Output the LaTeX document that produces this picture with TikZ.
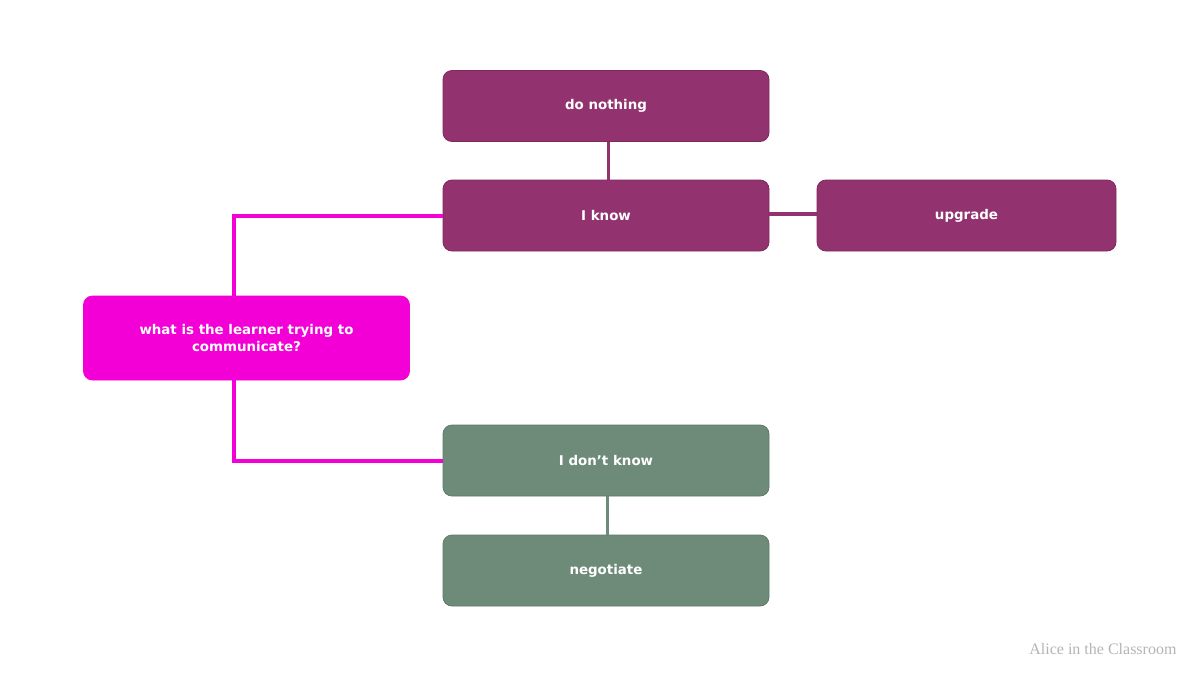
\documentclass[tikz,border=0pt]{standalone}
\usepackage{fontspec}
\setmainfont{DejaVu Sans}
\newfontfamily\wmfont{Liberation Serif}
\definecolor{plum}{HTML}{92336F}
\definecolor{plumedge}{HTML}{7E2A5F}
\definecolor{hotpink}{HTML}{F200D6}
\definecolor{sage}{HTML}{6E8B7A}
\definecolor{sageedge}{HTML}{5F7A6A}
\definecolor{wmgray}{HTML}{B5B5B5}
\begin{document}
\begin{tikzpicture}[x=1pt,y=-1pt,
  box/.style={rounded corners=9pt, minimum width=326pt, minimum height=71pt,
    inner sep=0pt, text=white, font=\fontsize{13.4}{17}\selectfont\bfseries, align=center, line width=0.8pt},
  plumbox/.style={box, fill=plum, draw=plumedge},
  sagebox/.style={box, fill=sage, draw=sageedge},
  pinkbox/.style={box, fill=hotpink, draw=hotpink, minimum height=84pt},
  pinkline/.style={draw=hotpink, line width=4pt},
  plumline/.style={draw=plum, line width=3.5pt},
  sageline/.style={draw=sage, line width=3.5pt}]
\useasboundingbox (0,0) rectangle (1200,675);
\fill[white] (0,0) rectangle (1200,675);
\coordinate (jt) at (234,215.5);
\coordinate (jb) at (234,460.5);
\node[plumbox] (nothing) at (606,106) {do nothing};
\node[plumbox] (know) at (606,215.5) {I know};
\node[plumbox, minimum width=299pt] (upgrade) at (966.5,215.5) {upgrade};
\node[pinkbox] (learner) at (246.5,338) {what is the learner trying to\\communicate?};
\node[sagebox] (dontknow) at (606,460.5) {I don’t know};
\node[sagebox] (negotiate) at (606,570.5) {negotiate};
\draw[pinkline] (learner.north -| jt) -- (jt) -- (know.west);
\draw[pinkline] (learner.south -| jb) -- (jb) -- (dontknow.west);
\draw[plumline] ([xshift=2.5pt]nothing.south) -- ([xshift=2.5pt]know.north);
\draw[plumline] ([yshift=1.5pt]know.east) -- ([yshift=1.5pt]upgrade.west);
\draw[sageline] ([xshift=1.5pt]dontknow.south) -- ([xshift=1.5pt]negotiate.north);
\node[text=wmgray, font=\wmfont\fontsize{16}{19}\selectfont, anchor=east] (wm) at (1180,649) {Alice in the Classroom};
\end{tikzpicture}
\end{document}
